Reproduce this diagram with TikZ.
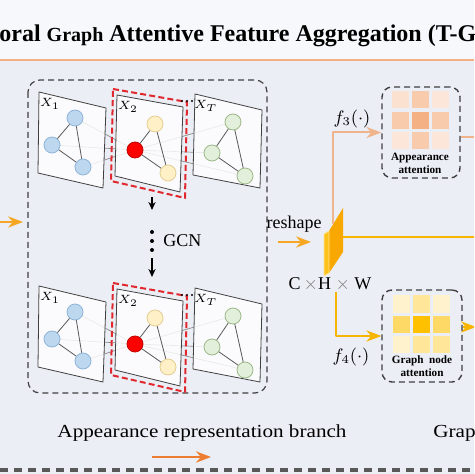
\documentclass[tikz,border=0pt]{standalone}
\usepackage{fontspec}
\setmainfont{Liberation Serif}
\usetikzlibrary{arrows.meta}
\definecolor{bgmain}{HTML}{EBEEF5}
\definecolor{bgtop}{HTML}{F7F8FB}
\definecolor{topline}{HTML}{F4B183}
\definecolor{boxline}{HTML}{404040}
\definecolor{panelline}{HTML}{404040}
\definecolor{linkgray}{HTML}{8C8C8C}
\definecolor{edgegray}{HTML}{595959}
\definecolor{nblue}{HTML}{BDD7EE}
\definecolor{nblueline}{HTML}{8FB4D9}
\definecolor{nyellow}{HTML}{FFF0C8}
\definecolor{nyellowline}{HTML}{E3CD90}
\definecolor{ngreen}{HTML}{E2EFDA}
\definecolor{ngreenline}{HTML}{9DB887}
\definecolor{nred}{HTML}{FF0000}
\definecolor{nredline}{HTML}{C00000}
\definecolor{framered}{HTML}{E0282E}
\definecolor{inorange}{HTML}{F5A623}
\definecolor{salmon}{HTML}{F0B48C}
\definecolor{gold}{HTML}{F7B500}
\definecolor{blockface}{HTML}{F8A800}
\definecolor{blockside}{HTML}{FFC21A}
\definecolor{branchorange}{HTML}{ED7D31}
\definecolor{dashgray}{HTML}{595959}
% appearance attention cells
\definecolor{apA}{HTML}{FBE2D0}
\definecolor{apB}{HTML}{F8CBAD}
\definecolor{apC}{HTML}{F4B183}
\definecolor{apD}{HTML}{FCE6D9}
% graph node attention cells
\definecolor{gnA}{HTML}{FFF2CC}
\definecolor{gnB}{HTML}{FFE699}
\definecolor{gnC}{HTML}{FFD966}
\definecolor{gnD}{HTML}{FFC000}

\begin{document}
\begin{tikzpicture}[x=0.5pt, y=-0.5pt, line join=round, >=Stealth,
  gnode/.style={circle, minimum size=8pt, inner sep=0pt, line width=0.4pt},
  bnode/.style={gnode, fill=nblue, draw=nblueline},
  ynode/.style={gnode, fill=nyellow, draw=nyellowline},
  grnode/.style={gnode, fill=ngreen, draw=ngreenline},
  rnode/.style={gnode, fill=nred, draw=nredline},
  panel/.style={fill=white, fill opacity=0.82, draw=panelline, line width=0.4pt},
  link/.style={draw=linkgray, line width=0.35pt},
  gedge/.style={draw=edgegray, line width=0.4pt},
  plabel/.style={font=\fontsize{6}{6}\selectfont, inner sep=0pt},
  attbox/.style={draw=boxline, dash pattern=on 3pt off 2pt, rounded corners=5pt, line width=0.7pt, minimum width=39pt, minimum height=45.5pt, inner sep=0pt},
  cell/.style={minimum size=8.5pt, inner sep=0pt},
  boxtext/.style={font=\fontsize{5.6}{6.5}\selectfont\bfseries, align=center, inner sep=0pt},
  lbl/.style={font=\fontsize{9}{9}\selectfont, inner sep=0pt},
  caption/.style={font=\fontsize{9.2}{9.2}\selectfont, inner sep=0pt}]

\useasboundingbox (0,0) rectangle (474,474);
\clip (0,0) rectangle (474,474);
\fill[bgmain] (0,0) rectangle (474,474);
\fill[bgtop] (0,0) rectangle (474,60);
\draw[topline, line width=0.8pt] (0,60) -- (474,60);

% title
\node[anchor=base west, inner sep=0pt, font=\fontsize{12}{12}\selectfont\bfseries] (title) at (-1,42)
  {oral {\fontsize{10}{10}\selectfont Graph} Attentive Feature Aggregation (T-G};

% input arrow
\coordinate (inL) at (0,222);
\coordinate (inR) at (23,222);
\draw[->, inorange, line width=1pt] (inL) -- (inR);

% branch frame
\draw[boxline, dash pattern=on 3pt off 2pt, line width=0.6pt, rounded corners=6pt] (28,80) rectangle (267,393);

% two graph rows
\foreach \dy/\r in {0/a,194/b}{
\begin{scope}[shift={(0,\dy)}]
  \coordinate (b1\r) at (75,118);
  \coordinate (b2\r) at (52,145);
  \coordinate (b3\r) at (83,167);
  \coordinate (rd\r) at (135,150);
  \coordinate (y1\r) at (155,124);
  \coordinate (y2\r) at (168,173);
  \coordinate (g1\r) at (212,153);
  \coordinate (g2\r) at (233,122);
  \coordinate (g3\r) at (245,176);
  % links between frames
  \draw[link] (b1\r) -- (rd\r) (b2\r) -- (rd\r) (b3\r) -- (rd\r);
  \draw[link] (rd\r) -- (g1\r) (rd\r) -- (g2\r) (rd\r) -- (g3\r);
  % frames
  \draw[panel] (39,92) -- (106,108) -- (103,188) -- (38,173) -- cycle;
  \draw[panel] (117,95) -- (183,107) -- (180,192) -- (115,176) -- cycle;
  \draw[panel] (195,94) -- (262,110) -- (260,188) -- (193,175) -- cycle;
  \draw[framered, line width=1pt, dash pattern=on 3pt off 1.6pt] (113,89) -- (187,102) -- (185,198) -- (111,181) -- cycle;
  \fill (182,101) circle (0.55pt) (187,101) circle (0.55pt) (192,101) circle (0.55pt);
  \node[plabel] (lx1\r) at (50,104) {$X_1$};
  \node[plabel] (lx2\r) at (128,107) {$X_2$};
  \node[plabel] (lxt\r) at (206,106) {$X_T$};
  % nodes
  \node[bnode] (nb1\r) at (b1\r) {};
  \node[bnode] (nb2\r) at (b2\r) {};
  \node[bnode] (nb3\r) at (b3\r) {};
  \node[rnode] (nrd\r) at (rd\r) {};
  \node[ynode] (ny1\r) at (y1\r) {};
  \node[ynode] (ny2\r) at (y2\r) {};
  \node[grnode] (ng1\r) at (g1\r) {};
  \node[grnode] (ng2\r) at (g2\r) {};
  \node[grnode] (ng3\r) at (g3\r) {};
  \draw[gedge] (nb1\r) -- (nb2\r) (nb1\r) -- (nb3\r) (nb2\r) -- (nb3\r);
  \draw[gedge] (nrd\r) -- (ny1\r) (nrd\r) -- (ny2\r) (ny1\r) -- (ny2\r);
  \draw[gedge] (ng1\r) -- (ng2\r) (ng2\r) -- (ng3\r) (ng1\r) -- (ng3\r);
\end{scope}
}

% GCN step
\coordinate (dn1a) at (152,197);
\coordinate (dn1b) at (152,210);
\coordinate (dn2a) at (152,258);
\coordinate (dn2b) at (152,277);
\draw[-{Stealth[length=4pt,width=3.6pt]}, line width=1pt] (dn1a) -- (dn1b);
\draw[-{Stealth[length=4pt,width=3.6pt]}, line width=1pt] (dn2a) -- (dn2b);
\fill (152,232) circle (1pt) (152,241) circle (1pt) (152,250) circle (1pt);
\node[lbl, anchor=west] (gcn) at (163,241) {GCN};

% reshape
\node[lbl, anchor=base] (reshape) at (294,229) {reshape};
\coordinate (rsL) at (278,242);
\coordinate (rsR) at (311,242);
\draw[->, inorange, line width=1pt] (rsL) -- (rsR);
\fill[blockface] (329,231) -- (343,208) -- (343,252) -- (329,273) -- cycle;
\filldraw[fill=blockside, draw=gnB, line width=0.4pt] (324,234) -- (329,231) -- (329,273) -- (324,276) -- cycle;
\node[lbl, anchor=base] (chw) at (330,290) {C\,{\color{gray}$\times$}H {\color{gray}$\times$} W};

% attention boxes
\node[attbox] (appbox) at (421,132.5) {};
\node[attbox, minimum width=40pt, minimum height=46pt] (gnbox) at (422,336) {};
\foreach \row/\col/\c in {0/0/apA,0/1/apB,0/2/apD,1/0/apB,1/1/apC,1/2/apB,2/0/apD,2/1/apB,2/2/apD}
  \node[cell, fill=\c] (ac\row\col) at ({400+20*\col},{100+20.5*\row}) {};
\foreach \row/\col/\c in {0/0/gnA,0/1/gnB,0/2/gnA,1/0/gnC,1/1/gnD,1/2/gnC,2/0/gnA,2/1/gnB,2/2/gnB}
  \node[cell, fill=\c] (gc\row\col) at ({401.5+20*\col},{304+20*\row}) {};
\node[boxtext] (apptxt) at (420,163.5) {Appearance\\attention};
\node[boxtext] (gntxt) at (422,366) {Graph\enspace node\\attention};

% branches out of the reshaped map
\coordinate (blkup) at (333,224);
\coordinate (blklow) at (336,292);
\coordinate (blkright) at (343,237);
\coordinate (midend) at (476,237);
\coordinate (appout) at (476,137);
\coordinate (gnout) at (476,327);
\draw[->, salmon, line width=1pt] (blkup) |- (appbox.west);
\draw[->, gold, line width=1pt] (blklow) |- (gnbox.west);
\draw[gold, line width=1pt] (blkright) -- (midend);
\draw[salmon, line width=1pt] (appbox.east |- appout) -- (appout);
\draw[->, gold, line width=1pt] (gnbox.east |- gnout) -- (gnout);
\node[lbl, anchor=base] (f3) at (352,124) {$f_3(\cdot)$};
\node[lbl, anchor=base] (f4) at (351,361) {$f_4(\cdot)$};

% bottom captions
\node[caption, anchor=base] (apptitle) at (202,437) {\scalebox{1.15}[1]{Appearance representation branch}};
\node[caption, anchor=base west] (gntitle) at (433,437) {\scalebox{1.15}[1]{Graph}};
\coordinate (brL) at (152,457);
\coordinate (brR) at (211,457);
\draw[->, branchorange, line width=1pt] (brL) -- (brR);
\draw[dashgray, line width=1.8pt, dash pattern=on 4pt off 3pt] (0,470) -- (474,470);
\end{tikzpicture}
\end{document}
